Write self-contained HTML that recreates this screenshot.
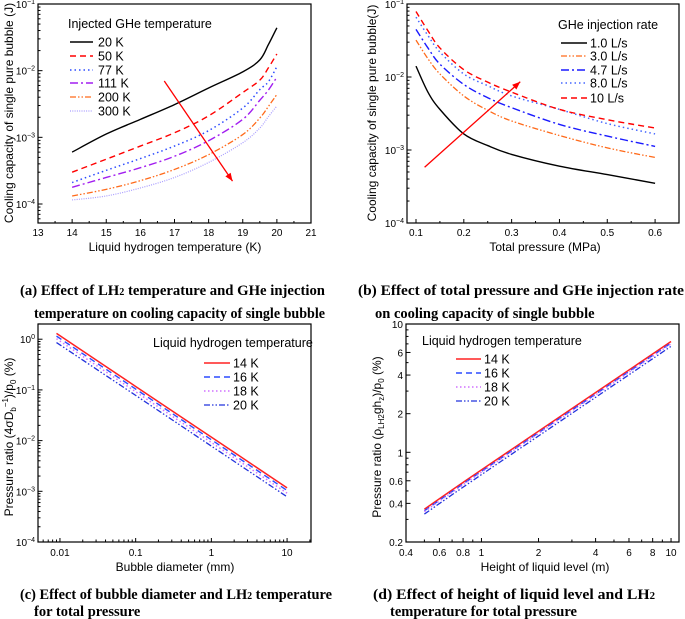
<!DOCTYPE html>
<html><head><meta charset="utf-8"><style>
html,body{margin:0;padding:0;background:#fff}
svg{display:block}
text{font-family:"Liberation Sans",sans-serif}
.cap{font-family:"Liberation Serif",serif;font-weight:bold;font-size:14.5px}
</style></head><body>
<svg id="fig" width="685" height="619" viewBox="0 0 685 619">
<g>
<text class="cap" x="20" y="295" textLength="305" lengthAdjust="spacingAndGlyphs">(a) Effect of LH<tspan font-size="10">2</tspan> temperature and GHe injection</text>
<text class="cap" x="34" y="318" textLength="291" lengthAdjust="spacingAndGlyphs">temperature on cooling capacity of single bubble</text></g>
<g>
<text class="cap" x="358" y="295" textLength="326" lengthAdjust="spacingAndGlyphs">(b) Effect of total pressure and GHe injection rate</text>
<text class="cap" x="375" y="318">on cooling capacity of single bubble</text></g>
<g>
<text class="cap" x="20" y="599" textLength="312" lengthAdjust="spacingAndGlyphs">(c) Effect of bubble diameter and LH<tspan font-size="10">2</tspan> temperature</text>
<text class="cap" x="34" y="616">for total pressure</text></g>
<g>
<text class="cap" x="373" y="599" textLength="282" lengthAdjust="spacingAndGlyphs">(d) Effect of height of liquid level and LH<tspan font-size="10">2</tspan></text>
<text class="cap" x="390" y="616">temperature for total pressure</text></g>
</svg>
<script>
// ---- Panel (a) data ----
const aTemps = [14,15,16,17,18,19,19.5,19.75,20];
const a20K  = [6.0e-4,1.12e-3,1.86e-3,3.1e-3,5.5e-3,9.6e-3,1.45e-2,2.45e-2,4.4e-2];
const a50K  = [3.0e-4,4.7e-4,7.4e-4,1.17e-3,2.1e-3,4.7e-3,7.2e-3,1.1e-2,1.78e-2];
const a77K  = [2.1e-4,3.2e-4,4.8e-4,7.4e-4,1.26e-3,2.75e-3,5.2e-3,6.8e-3,1.15e-2];
const a111K = [1.78e-4,2.5e-4,3.5e-4,5.2e-4,8.9e-4,1.86e-3,3.6e-3,5.1e-3,8.0e-3];
const a200K = [1.32e-4,1.66e-4,2.24e-4,3.3e-4,5.5e-4,1.1e-3,1.95e-3,2.9e-3,4.4e-3];
const a300K = [1.15e-4,1.32e-4,1.74e-4,2.5e-4,4.2e-4,8.3e-4,1.38e-3,2.04e-3,2.95e-3];
const aXTicks = [13,14,15,16,17,18,19,20,21];
const aYTickExps = [-4,-3,-2,-1];
// ---- Panel (b) data ----
const bPress = [0.1,0.125,0.15,0.2,0.25,0.3,0.4,0.5,0.6];
const b1L  = [1.41e-2,6.2e-3,3.6e-3,1.66e-3,1.15e-3,8.7e-4,6.0e-4,4.6e-4,3.5e-4];
const b3L  = [3.2e-2,1.78e-2,1.1e-2,5.5e-3,3.5e-3,2.5e-3,1.58e-3,1.07e-3,7.9e-4];
const b47L = [4.5e-2,2.5e-2,1.5e-2,7.9e-3,5.2e-3,3.8e-3,2.24e-3,1.55e-3,1.12e-3];
const b8L  = [6.6e-2,3.7e-2,2.2e-2,1.1e-2,7.6e-3,5.5e-3,3.6e-3,2.3e-3,1.66e-3];
const b10L = [7.9e-2,4.3e-2,2.5e-2,1.26e-2,8.5e-3,6.2e-3,3.6e-3,2.6e-3,2.0e-3];
const bXTicks = [0.1,0.2,0.3,0.4,0.5,0.6];
const bYTickExps = [-4,-3,-2,-1];
// ---- Panel (c) data ----
const cDiam = [0.009,0.1,1,10];
const c14K = [1.3,0.117,0.0117,1.17e-3];
const c16K = [1.15,0.104,0.0104,1.04e-3];
const c18K = [1.02,0.092,0.0092,9.2e-4];
const c20K = [0.86,0.078,0.0078,7.8e-4];
const cXTicks = [0.01,0.1,1,10];
const cYTickExps = [-4,-3,-2,-1,0];
// ---- Panel (d) data ----
const dHeight = [0.5,1,10];
const d14K = [0.36,0.73,7.3];
const d16K = [0.35,0.71,7.1];
const d18K = [0.345,0.70,7.0];
const d20K = [0.33,0.67,6.7];
const dXTicks = [0.4,0.6,0.8,1,2,4,6,8,10];
const dYTicks = [0.2,0.4,0.6,1,2,4,6,10];

const NS='http://www.w3.org/2000/svg';
const svg=document.getElementById('fig');
function el(tag,attrs,parent){const e=document.createElementNS(NS,tag);for(const k in attrs)e.setAttribute(k,attrs[k]);(parent||svg).appendChild(e);return e;}
function lin(d0,d1,r0,r1){return v=>r0+(v-d0)/(d1-d0)*(r1-r0);}
function lg(d0,d1,r0,r1){return v=>r0+(Math.log10(v)-d0)/(d1-d0)*(r1-r0);}
function smoothPath(pts){
  let d='M'+pts[0][0].toFixed(2)+','+pts[0][1].toFixed(2);
  for(let i=0;i<pts.length-1;i++){
    const p0=pts[Math.max(0,i-1)],p1=pts[i],p2=pts[i+1],p3=pts[Math.min(pts.length-1,i+2)];
    const c1=[p1[0]+(p2[0]-p0[0])/6,p1[1]+(p2[1]-p0[1])/6];
    const c2=[p2[0]-(p3[0]-p1[0])/6,p2[1]-(p3[1]-p1[1])/6];
    d+=' C'+c1.join(',')+' '+c2.join(',')+' '+p2.join(',');
  }
  return d;
}
function box(g,x0,y0,x1,y1){
  const r=el('rect',{x:x0,y:y0,width:x1-x0,height:y1-y0,fill:'none',stroke:'#000','stroke-width':1.2},g);
  
  
}
function tick(g,x1,y1,x2,y2){el('line',{x1,y1,x2,y2,stroke:'#000','stroke-width':1},g);}
function txt(g,x,y,s,anchor,size,name){
  const t=el('text',{x,y,'text-anchor':anchor||'middle','font-size':size||10,fill:'#000'},g);
  t.textContent=s;
  
  
  return t;
}
function expLabel(g,x,y,e){
  const t=el('text',{x,y,'text-anchor':'end','font-size':10,fill:'#000'},g);
  
  
  const a=el('tspan',{},t);a.textContent='10';
  const b=el('tspan',{dy:-4,'font-size':7},t);b.textContent=String(e).replace('-','\u2212');
}
function series(g,xs,ys,sx,sy,style,name){
  const pts=xs.map((x,i)=>[sx(x),sy(ys[i])]);
  const p=el('path',Object.assign({d:smoothPath(pts),fill:'none'},style),g);
  
  
}
function legend(g,x0,x1,tx,y,style,label,name){
  const lg_=el('g',{},g);
  
  
  el('line',Object.assign({x1:x0,y1:y,x2:x1,y2:y},style),lg_);
  txt(lg_,tx,y+4.5,label,'start',12.5,name+'-label');
}
function yLabel(g,x,y,content,name){
  const t=el('text',{x:0,y:0,transform:`translate(${x},${y}) rotate(-90)`,'text-anchor':'middle','font-size':12,fill:'#000'},g);
  
  
  return t;
}
function arrow(g,xA,yA,xB,yB,name){
  const a=el('g',{},g);
  
  
  el('line',{x1:xA,y1:yA,x2:xB,y2:yB,stroke:'#f00','stroke-width':1.3},a);
  const ang=Math.atan2(yB-yA,xB-xA),L=8,W=3.2;
  const bx=xB-L*Math.cos(ang),by=yB-L*Math.sin(ang);
  el('polygon',{points:`${xB},${yB} ${bx+W*Math.sin(ang)},${by-W*Math.cos(ang)} ${bx-W*Math.sin(ang)},${by+W*Math.cos(ang)}`,fill:'#f00'},a);
}
function logMinorY(g,x0,sy,e0,e1,ymin,ymax){
  for(let e=e0;e<=e1;e++)for(let m=2;m<=9;m++){const v=m*Math.pow(10,e);const y=sy(v);if(y<ymin-0.5||y>ymax+0.5)continue;tick(g,x0,y,x0+2.5,y);}
}
const S={
 black:{stroke:'#000','stroke-width':1.4},
 redDash:{stroke:'#f00','stroke-width':1.4,'stroke-dasharray':'6,4'},
 blueDot:{stroke:'#2b4bff','stroke-width':1.5,'stroke-dasharray':'1.5,3'},
 purpleDD:{stroke:'#a21ef0','stroke-width':1.4,'stroke-dasharray':'8,3,2,3'},
 orangeDDD:{stroke:'#ff6a1a','stroke-width':1.3,'stroke-dasharray':'6,2,1.5,2,1.5,2'},
 lavDot:{stroke:'#a89cff','stroke-width':1.2,'stroke-dasharray':'1,1.3'},
 blueDD:{stroke:'#1a1aff','stroke-width':1.4,'stroke-dasharray':'8,3,2,3'},
 blueDot2:{stroke:'#4466ff','stroke-width':1.5,'stroke-dasharray':'1.5,3'},
 red:{stroke:'#f22','stroke-width':1.5},
 blueDash:{stroke:'#2b4bff','stroke-width':1.4,'stroke-dasharray':'6,4'},
 violetDot:{stroke:'#d070ff','stroke-width':1.5,'stroke-dasharray':'1.5,2.5'},
 blueDDD:{stroke:'#2233dd','stroke-width':1.3,'stroke-dasharray':'6,2,1.5,2,1.5,2'}
};

// ===== Panel A =====
(function(){
 const g=el('g',{});
 const X0=38,X1=311,Y0=4,Y1=223;
 const sx=lin(13,21,X0,X1), sy=lg(-4.285,-1,Y1,Y0);
 box(g,X0,Y0,X1,Y1);
 aXTicks.forEach(v=>{const x=sx(v);tick(g,x,Y1,x,Y1-4);txt(g,x,236,String(v),'middle',10,'x-tick-label');});
 aXTicks.slice(0,-1).forEach(v=>{const x=sx(v+0.5);tick(g,x,Y1,x,Y1-2);});
 aYTickExps.forEach(e=>{const y=sy(Math.pow(10,e));tick(g,X0,y,X0+4.5,y);expLabel(g,X0-3,y+4,e);});
 logMinorY(g,X0,sy,-5,-2,Y0,Y1);
 txt(g,175,251,'Liquid hydrogen temperature (K)','middle',12,'x-axis-title');
 yLabel(g,13,113,'','y-axis-title').textContent='Cooling capacity of single pure bubble (J)';
 series(g,aTemps,a20K,sx,sy,S.black,'series-20k');
 series(g,aTemps,a50K,sx,sy,S.redDash,'series-50k');
 series(g,aTemps,a77K,sx,sy,S.blueDot,'series-77k');
 series(g,aTemps,a111K,sx,sy,S.purpleDD,'series-111k');
 series(g,aTemps,a200K,sx,sy,S.orangeDDD,'series-200k');
 series(g,aTemps,a300K,sx,sy,S.lavDot,'series-300k');
 arrow(g,sx(16.7),sy(7e-3),sx(18.7),sy(2.2e-4),'trend-arrow');
 txt(g,68,28,'Injected GHe temperature','start',12.5,'legend-title');
 const rows=[42,56,70,83,97,111];
 const L=[[S.black,'20 K'],[S.redDash,'50 K'],[S.blueDot,'77 K'],[S.purpleDD,'111 K'],[S.orangeDDD,'200 K'],[S.lavDot,'300 K']];
 L.forEach((l,i)=>legend(g,70,93,98,rows[i],l[0],l[1],'legend-entry-'+l[1].replace(' ','').toLowerCase()));
})();

// ===== Panel B =====
(function(){
 const g=el('g',{});
 const X0=407,X1=679,Y0=4,Y1=223;
 const sx=lin(0.0812,0.650,X0,X1), sy=lg(-4,-1,Y1,Y0);
 box(g,X0,Y0,X1,Y1);
 bXTicks.forEach(v=>{const x=sx(v);tick(g,x,Y1,x,Y1-4);txt(g,x,236,v.toFixed(1),'middle',10,'x-tick-label');});
 bXTicks.slice(0,-1).forEach(v=>{const x=sx(v+0.05);tick(g,x,Y1,x,Y1-2);});
 bYTickExps.forEach(e=>{const y=sy(Math.pow(10,e));tick(g,X0,y,X0+4.5,y);expLabel(g,X0-3,y+4,e);});
 logMinorY(g,X0,sy,-4,-2,Y0,Y1);
 txt(g,545,251,'Total pressure (MPa)','middle',12,'x-axis-title');
 yLabel(g,376,113,'','y-axis-title').textContent='Cooling capacity of single pure bubble(J)';
 series(g,bPress,b1L,sx,sy,S.black,'series-1-0-ls');
 series(g,bPress,b3L,sx,sy,S.orangeDDD,'series-3-0-ls');
 series(g,bPress,b47L,sx,sy,S.blueDD,'series-4-7-ls');
 series(g,bPress,b8L,sx,sy,S.blueDot2,'series-8-0-ls');
 series(g,bPress,b10L,sx,sy,S.redDash,'series-10-ls');
 arrow(g,sx(0.118),sy(5.8e-4),sx(0.318),sy(8.6e-3),'trend-arrow');
 txt(g,558,29,'GHe injection rate','start',12.5,'legend-title');
 const rows=[43,56,70,83,98];
 const L=[[S.black,'1.0 L/s'],[S.orangeDDD,'3.0 L/s'],[S.blueDD,'4.7 L/s'],[S.blueDot2,'8.0 L/s'],[S.redDash,'10 L/s']];
 L.forEach((l,i)=>legend(g,561,587,590,rows[i],l[0],l[1],'legend-entry-'+l[1].replace(/[ .\/]/g,'').toLowerCase()));
})();

// ===== Panel C =====
(function(){
 const g=el('g',{});
 const X0=38,X1=311,Y0=324,Y1=542;
 const sx=lg(-2.29,1.316,X0,X1), sy=lg(-4,0.3,Y1,Y0);
 box(g,X0,Y0,X1,Y1);
 cXTicks.forEach(v=>{const x=sx(v);tick(g,x,Y1,x,Y1-4);txt(g,x,556,String(v),'middle',10,'x-tick-label');});
 for(let e=-3;e<=1;e++)for(let m=2;m<=9;m++){const x=sx(m*Math.pow(10,e));if(x<X0||x>X1)continue;tick(g,x,Y1,x,Y1-2.5);}
 cYTickExps.forEach(e=>{const y=sy(Math.pow(10,e));tick(g,X0,y,X0+4.5,y);expLabel(g,X0-3,y+4,e);});
 logMinorY(g,X0,sy,-4,0,Y0,Y1);
 txt(g,175,571,'Bubble diameter (mm)','middle',12,'x-axis-title');
 const yl=yLabel(g,13,437,'','y-axis-title');
 yl.innerHTML='Pressure ratio (4\u03C3D<tspan font-size="8" dy="3">b</tspan><tspan font-size="8" dy="-8">\u22121</tspan><tspan dy="5">)/p</tspan><tspan font-size="8" dy="3">0</tspan><tspan dy="-3"> (%)</tspan>';
 series(g,cDiam,c14K,sx,sy,S.red,'series-14k');
 series(g,cDiam,c16K,sx,sy,S.blueDash,'series-16k');
 series(g,cDiam,c18K,sx,sy,S.violetDot,'series-18k');
 series(g,cDiam,c20K,sx,sy,S.blueDDD,'series-20k');
 txt(g,153,347,'Liquid hydrogen temperature','start',12.5,'legend-title');
 const rows=[363,377,391,405];
 const L=[[S.red,'14 K'],[S.blueDash,'16 K'],[S.violetDot,'18 K'],[S.blueDDD,'20 K']];
 L.forEach((l,i)=>legend(g,204,230,233,rows[i],l[0],l[1],'legend-entry-'+l[1].replace(' ','').toLowerCase()));
})();

// ===== Panel D =====
(function(){
 const g=el('g',{});
 const X0=406,X1=679,Y0=324,Y1=542;
 const sx=lg(-0.398,1.042,X0,X1), sy=lg(-0.699,1,Y1,Y0);
 box(g,X0,Y0,X1,Y1);
 dXTicks.forEach(v=>{const x=sx(v);tick(g,x,Y1,x,Y1-4);txt(g,x,556,String(v),'middle',10,'x-tick-label');});
 [0.5,0.7,0.9,3,5,7,9].forEach(v=>{const x=sx(v);tick(g,x,Y1,x,Y1-2.5);});
 dYTicks.forEach(v=>{const y=sy(v);tick(g,X0,y,X0+4.5,y);txt(g,X0-3,y+4,String(v),'end',10,'y-tick-label');});
 [0.3,0.5,0.7,0.8,0.9,3,5,7,8,9].forEach(v=>{const y=sy(v);tick(g,X0,y,X0+2.5,y);});
 txt(g,545,571,'Height of liquid level (m)','middle',12,'x-axis-title');
 const yl=yLabel(g,381,437,'','y-axis-title');
 yl.innerHTML='Pressure ratio (\u03C1<tspan font-size="8" dy="3">LH2</tspan><tspan dy="-3">gh</tspan><tspan font-size="8" dy="3">z</tspan><tspan dy="-3">)/p</tspan><tspan font-size="8" dy="3">0</tspan><tspan dy="-3"> (%)</tspan>';
 series(g,dHeight,d14K,sx,sy,S.red,'series-14k');
 series(g,dHeight,d16K,sx,sy,S.blueDash,'series-16k');
 series(g,dHeight,d18K,sx,sy,S.violetDot,'series-18k');
 series(g,dHeight,d20K,sx,sy,S.blueDDD,'series-20k');
 txt(g,422,345,'Liquid hydrogen temperature','start',12.5,'legend-title');
 const rows=[359,373,387,401];
 const L=[[S.red,'14 K'],[S.blueDash,'16 K'],[S.violetDot,'18 K'],[S.blueDDD,'20 K']];
 L.forEach((l,i)=>legend(g,456,481,484,rows[i],l[0],l[1],'legend-entry-'+l[1].replace(' ','').toLowerCase()));
})();
</script>
</body></html>
